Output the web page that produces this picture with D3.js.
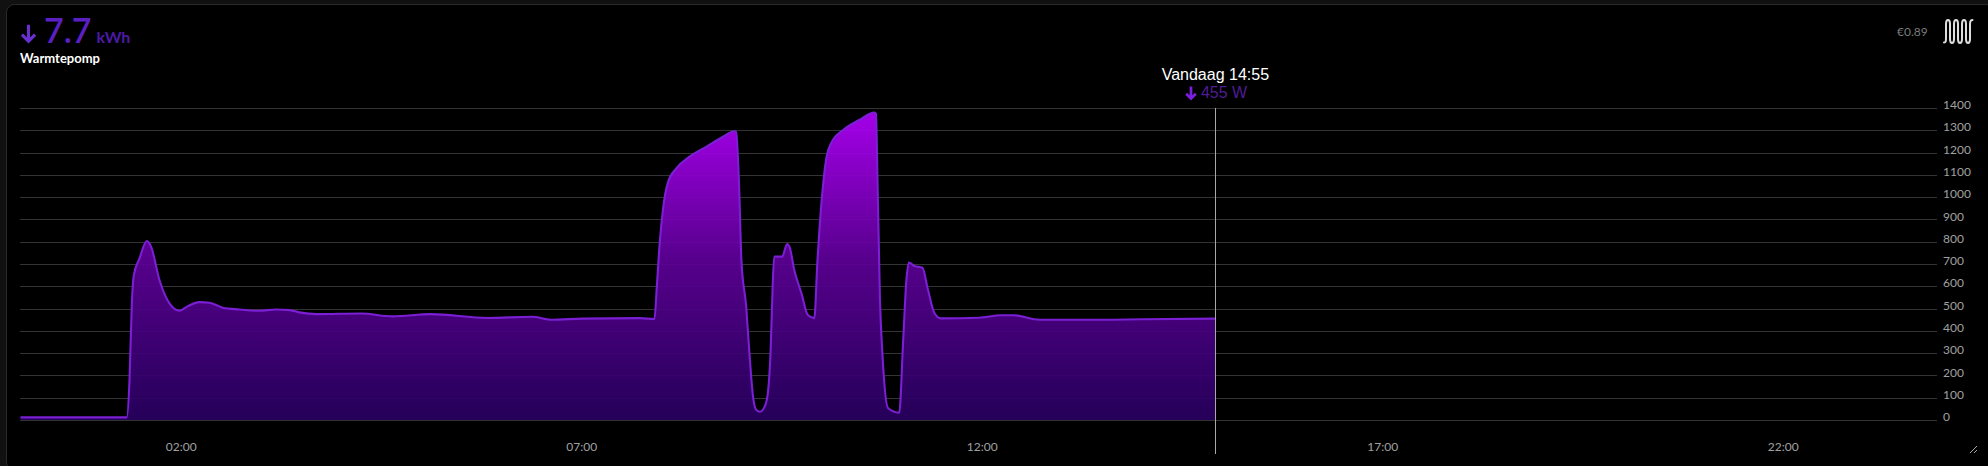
<!DOCTYPE html>
<html><head><meta charset="utf-8">
<script src="https://cdn.jsdelivr.net/npm/d3@7/dist/d3.min.js"></script>
<style>
html,body{margin:0;padding:0;background:#111;overflow:hidden}
svg{display:block}
text{font-family:Lato,sans-serif}
</style></head><body><svg id="c" width="1988" height="466"></svg>
<script>
const hours=[0,1.327,1.361,1.39,1.415,1.486,1.577,1.63,1.735,1.86,1.985,2.09,2.235,2.36,2.525,2.73,2.98,3.19,3.36,3.48,3.7,4.25,4.65,5.12,5.83,6.39,6.62,7.02,7.73,7.915,7.944,7.98,8.02,8.08,8.19,8.35,8.56,8.77,8.91,8.935,8.97,9.0,9.06,9.1,9.145,9.18,9.23,9.29,9.33,9.365,9.39,9.41,9.51,9.57,9.6,9.66,9.75,9.83,9.91,9.95,10.01,10.06,10.12,10.27,10.47,10.66,10.68,10.70,10.73,10.76,10.83,10.97,11.02,11.06,11.09,11.16,11.26,11.33,11.41,11.49,11.97,12.24,12.4,12.72,13.5,14.0,14.917];
const watts=[12,12,180,523,650,725,803,778,628,523,490,511,529,526,504,496,490,496,493,483,475,478,465,475,458,463,450,455,457,453,598,794,942,1063,1130,1181,1226,1271,1296,1293,1063,718,508,300,105,48,37,60,120,314,598,733,733,790,778,673,568,471,457,718,1018,1175,1242,1301,1346,1380,1375,1063,538,300,54,33,359,628,707,691,683,583,480,456,459,470,470,450,450,452,455];
const yTicks=d3.range(0,1500,100);
const xTicks=[2,7,12,17,22];
const xLabels=["02:00","07:00","12:00","17:00","22:00"];

const svg=d3.select("#c");
const W=1988,H=466,L=20,GR=1937,T=108,B=420;
const x=d3.scaleLinear().domain([0,24]).range([20.5,1942.9]);
const y=d3.scaleLinear().domain([0,1400]).range([B,T]);
const pts=hours.map((h,i)=>[h,watts[i]]);

svg.append("rect").attr("x",6.5).attr("y",4.5).attr("width",W).attr("height",H).attr("rx",8)
  .attr("fill","#000").attr("stroke","#2b2b2b");

const defs=svg.append("defs");
const g=defs.append("linearGradient").attr("id","fill").attr("gradientUnits","userSpaceOnUse")
  .attr("x1",0).attr("x2",0).attr("y1",y(1400)).attr("y2",y(0));
g.append("stop").attr("offset",0).attr("stop-color","#b400ff");
g.append("stop").attr("offset",0.5).attr("stop-color","#5c0096");
g.append("stop").attr("offset",1).attr("stop-color","#280060");

const area=d3.area().x(d=>x(d[0])).y0(y(0)).y1(d=>y(d[1])).curve(d3.curveMonotoneX);
const line=d3.line().x(d=>x(d[0])).y(d=>y(d[1])).curve(d3.curveMonotoneX);

const ya=svg.append("g").attr("transform",`translate(${GR},0)`)
  .call(d3.axisRight(y).tickValues(yTicks).tickSize(0).tickPadding(6).tickFormat(d3.format("d")));
ya.select(".domain").remove();
ya.selectAll("text").attr("fill","#a0a0a0").style("font-size","12px").style("font-family","Lato,sans-serif").attr("dy","0.05em");
svg.append("g").selectAll("line").data(yTicks).join("line")
  .attr("x1",L).attr("x2",GR).attr("y1",d=>Math.round(y(d))+.5).attr("y2",d=>Math.round(y(d))+.5)
  .attr("stroke","#ffffff").attr("stroke-opacity",.2);

svg.append("path").attr("d",area(pts)).attr("fill","url(#fill)").attr("fill-opacity",.92);
svg.append("path").attr("d",line(pts)).attr("fill","none").attr("stroke","#7a1fd4").attr("stroke-width",2.1).attr("stroke-linejoin","round");

const xa=svg.append("g").attr("transform",`translate(0,${B+22})`)
  .call(d3.axisBottom(x).tickValues(xTicks).tickSize(0).tickPadding(0).tickFormat((d,i)=>xLabels[i]));
xa.select(".domain").remove();
xa.selectAll("text").attr("fill","#a0a0a0").style("font-size","12px").style("font-family","Lato,sans-serif");

// cursor
const cx=Math.round(x(14.917))+.5;
svg.append("line").attr("x1",cx).attr("x2",cx).attr("y1",T).attr("y2",454).attr("stroke","#a8a8a8").attr("stroke-width",1);
svg.append("text").attr("x",x(14.917)).attr("y",79.5).attr("text-anchor","middle").attr("fill","#fff")
  .style("font-family","'Liberation Sans',Arial,sans-serif").style("font-size","16px").text("Vandaag 14:55");
svg.append("text").attr("x",cx+8.5).attr("y",98).attr("text-anchor","middle").attr("fill","#4f1c96")
  .style("font-family","'Liberation Sans',Arial,sans-serif").style("font-size","16px").text("455 W");

function arrow(px,py,s,col,w){
  svg.append("path").attr("transform",`translate(${px},${py}) scale(${s})`)
    .attr("d","M0,-8 L0,7 M-6,1 L0,7 L6,1").attr("fill","none").attr("stroke",col).attr("stroke-width",w);
}
arrow(1191,93,.8,"#7a1fe0",3.4);
arrow(28.5,33.5,1.1,"#6a2fd0",2.8);

// header
svg.append("text").attr("x",44).attr("y",43).attr("fill","#5c1fc4").style("font-size","34px").style("font-weight",600).text("7.7");
svg.append("text").attr("x",96.5).attr("y",43).attr("fill","#4b1aa6").style("font-size","16px").style("font-weight",700).text("kWh");
svg.append("text").attr("x",20).attr("y",63).attr("fill","#fff").style("font-size","13px").style("font-weight",700).text("Warmtepomp");
svg.append("text").attr("x",1897).attr("y",36).attr("fill","#7a7a7a").style("font-size","12px").text("€0.89");

// radiator icon
svg.append("path").attr("fill","none").attr("stroke","#ddd").attr("stroke-width",2).attr("stroke-linecap","round").attr("stroke-linejoin","round")
  .attr("d","M1944,42.5 C1946,42.5 1946,41 1946,37 V24 C1946,21 1947,20 1948,20 C1949.5,20 1950,21 1950,24 V39 C1950,42 1951,43 1952,43 C1953.5,43 1954,42 1954,39 V24 C1954,21 1955,20 1956,20 C1957.5,20 1958,21 1958,24 V39 C1958,42 1959,43 1960,43 C1961.5,43 1962,42 1962,39 V24 C1962,21 1963,20 1964,20 C1965.5,20 1966,21 1966,24 V39 C1966,42 1967,43 1968,43 C1969.5,43 1970,42 1970,39 V24 C1970,21 1971,20 1972.5,20");

// resize handle
svg.append("path").attr("d","M1970,453 L1977,446 M1974,453 L1977,450").attr("stroke","#aaa").attr("stroke-width",1).attr("fill","none");
</script></body></html>
